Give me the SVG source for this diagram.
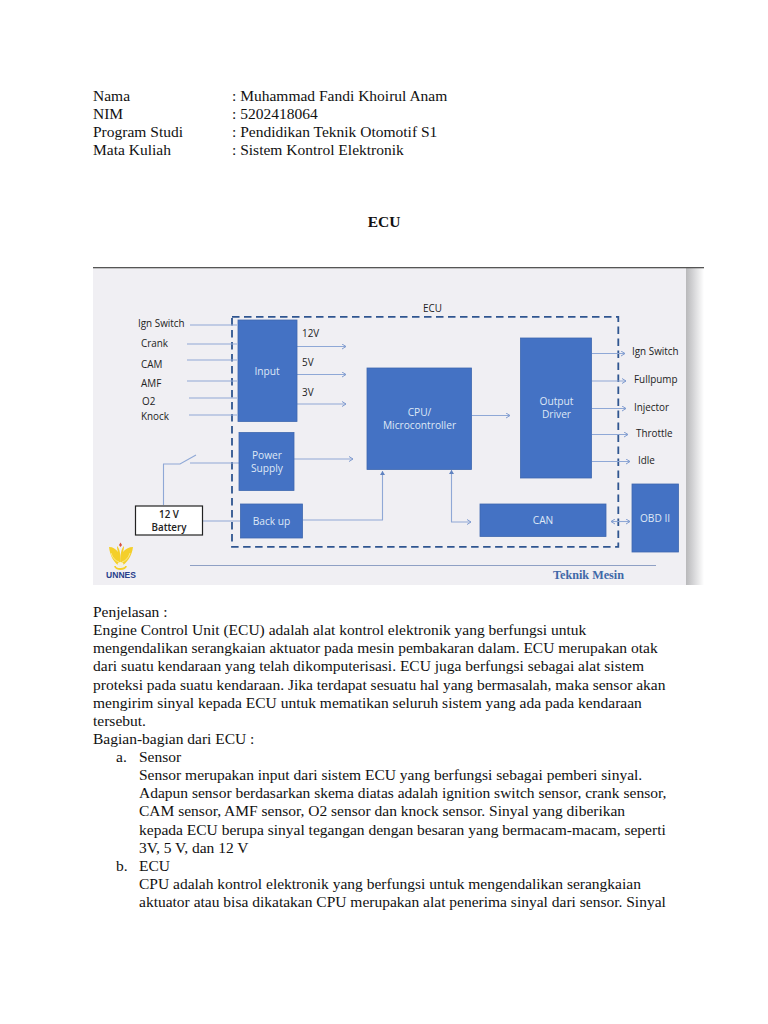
<svg xmlns="http://www.w3.org/2000/svg" width="768" height="1024" viewBox="0 0 768 1024">
<defs>
<linearGradient id="shadow" x1="0" x2="1" y1="0" y2="0"><stop offset="0" stop-color="#b8b8ba"/><stop offset=".4" stop-color="#d4d4d6"/><stop offset="1" stop-color="#ffffff"/></linearGradient>
<marker id="arr" markerWidth="7" markerHeight="7" refX="5" refY="3" orient="auto" markerUnits="userSpaceOnUse"><path d="M1 0.5L5 3L1 5.5" fill="none" stroke="#7f9bcf" stroke-width="1"/></marker>
<marker id="arrs" markerWidth="7" markerHeight="7" refX="1" refY="3" orient="auto" markerUnits="userSpaceOnUse"><path d="M5 0.5L1 3L5 5.5" fill="none" stroke="#7f9bcf" stroke-width="1"/></marker>
<marker id="tip" markerWidth="6" markerHeight="6" refX="4" refY="2.5" orient="auto" markerUnits="userSpaceOnUse"><path d="M0 0L4 2.5L0 5Z" fill="#5f82c0"/></marker>
</defs>
<style>
.doc{font-family:"Liberation Serif","Times New Roman",serif;font-size:15.5px;fill:#111}
.lab{font-family:"Open Sans","Noto Sans",sans-serif;font-size:9.9px;fill:#222}
.w{font-family:"Open Sans","Noto Sans",sans-serif;font-size:10.2px;fill:#dfe8f6;text-anchor:middle}
.bt{font-family:"Open Sans","Noto Sans",sans-serif;font-size:9.8px;font-weight:600;fill:#222;text-anchor:middle}
.b{fill:#4472c4;stroke:#3f68b0;stroke-width:.8}
.c line,.c path{fill:none;stroke:#8fa8d6;stroke-width:1.1}
</style>
<rect width="768" height="1024" fill="#fff"/>
<g id="header" class="doc">
<text x="93" y="101">Nama</text><text x="232" y="101">: Muhammad Fandi Khoirul Anam</text>
<text x="93" y="119">NIM</text><text x="232" y="119">: 5202418064</text>
<text x="93" y="137">Program Studi</text><text x="232" y="137">: Pendidikan Teknik Otomotif S1</text>
<text x="93" y="155">Mata Kuliah</text><text x="232" y="155">: Sistem Kontrol Elektronik</text>
<text x="384" y="227" text-anchor="middle" font-weight="bold">ECU</text>
</g>
<g id="figure-bg">
<rect x="686" y="268" width="18" height="317" fill="url(#shadow)"/>
<rect x="93" y="268" width="593" height="317" fill="#f0eff3"/>
<rect x="93" y="267" width="611" height="1.3" fill="#555"/>
<path d="M190 565.500H656" stroke="#8fa0c4" stroke-width="1"/>
<text x="553" y="579" font-family="Liberation Serif,serif" font-size="12.200" font-weight="bold" fill="#3f68a8">Teknik Mesin</text>
</g>
<g id="logo-unnes">
<path d="M120.500 567C114 563 110 556 109 547C113 547 116 549 118 552C117 549 117 547 117 546C120 549 121 555 120.500 567Z" fill="#f4cf2a"/>
<path d="M120.500 567C127 563 132 556 133 547C129 547 125 549 123 552C124 549 124 547 124 546C121 549 120 555 120.500 567Z" fill="#f4cf2a"/>
<path d="M111 553Q113 560 119 562M130 553Q128 560 122 562" fill="none" stroke="#fbeea0" stroke-width=".8"/>
<path d="M115 566a5.500 3 0 0 0 11 0" fill="none" stroke="#f4cf2a" stroke-width="1.800"/>
<ellipse cx="120.500" cy="564.500" rx="3" ry="2.500" fill="#f6f1d8"/>
<path d="M120.500 542.500l1.500 2.500-1.500 2-1.500-2Z" fill="#d8503a"/>
<text x="121" y="578" text-anchor="middle" font-family="Liberation Sans,sans-serif" font-size="8.500" font-weight="bold" fill="#27408b">UNNES</text>
</g>
<rect id="ecu-boundary" x="232" y="316.800" width="386.300" height="230" fill="none" stroke="#2f5590" stroke-width="1.800" stroke-dasharray="7.500 4.500"/>
<g id="connectors" class="c">
<line x1="190" y1="325" x2="237" y2="325"/><line x1="187" y1="344" x2="237" y2="344"/><line x1="187" y1="360" x2="237" y2="360"/><line x1="187" y1="381" x2="237" y2="381"/><line x1="189" y1="398" x2="237" y2="398"/><line x1="189" y1="415" x2="237" y2="415"/>
<line x1="297" y1="346.500" x2="346" y2="346.500" marker-end="url(#arr)"/>
<line x1="297" y1="374.500" x2="346" y2="374.500" marker-end="url(#arr)"/>
<line x1="297" y1="404" x2="346" y2="404" marker-end="url(#arr)"/>
<line x1="294" y1="459" x2="353" y2="459" marker-end="url(#arr)"/>
<path d="M163.500 505V464H180L196 455"/><line x1="190" y1="463" x2="239" y2="463"/>
<line x1="203" y1="521" x2="240" y2="521"/>
<path d="M303 520H382.500V471" marker-end="url(#tip)"/>
<line x1="472" y1="415.500" x2="510" y2="415.500" marker-end="url(#arr)"/>
<path d="M451.500 471V522H471" marker-end="url(#arr)"/><path d="M451.500 474V470" marker-end="url(#tip)"/>
<line x1="592" y1="353.500" x2="625" y2="353.500" marker-end="url(#arr)"/>
<line x1="592" y1="381" x2="626" y2="381" marker-end="url(#arr)"/>
<line x1="592" y1="408.500" x2="626" y2="408.500" marker-end="url(#arr)"/>
<line x1="592" y1="434.500" x2="628" y2="434.500" marker-end="url(#arr)"/>
<line x1="592" y1="461.500" x2="630" y2="461.500" marker-end="url(#arr)"/>
<line x1="611" y1="521.500" x2="630" y2="521.500" marker-start="url(#arrs)" marker-end="url(#arr)"/>
</g>
<g id="ecu-title"><text class="lab" x="423" y="312">ECU</text></g>
<g id="inputs" class="lab">
<text x="138" y="327">Ign Switch</text><text x="141" y="347">Crank</text><text x="141" y="368">CAM</text><text x="141" y="387">AMF</text><text x="142" y="405">O2</text><text x="141" y="420">Knock</text>
<text x="302" y="337">12V</text><text x="302" y="366">5V</text><text x="302" y="395.500">3V</text>
</g>
<g id="outputs" class="lab">
<text x="632" y="355">Ign Switch</text><text x="634" y="383">Fullpump</text><text x="634" y="411">Injector</text><text x="636" y="437">Throttle</text><text x="638" y="464">Idle</text>
</g>
<g id="node-input"><rect class="b" x="238" y="320" width="59" height="101.500"/><text class="w" x="267" y="374.500">Input</text></g>
<g id="node-power"><rect class="b" x="239" y="432.500" width="55" height="58"/><text class="w" x="267" y="459">Power</text><text class="w" x="267" y="472">Supply</text></g>
<g id="node-backup"><rect class="b" x="240.500" y="504" width="62" height="34"/><text class="w" x="271.500" y="525">Back up</text></g>
<g id="node-cpu"><rect class="b" x="367" y="368" width="104.500" height="101.500"/><text class="w" x="419.500" y="416">CPU/</text><text class="w" x="419.500" y="429">Microcontroller</text></g>
<g id="node-output"><rect class="b" x="520.500" y="338" width="71" height="140"/><text class="w" x="556.500" y="405">Output</text><text class="w" x="556.500" y="418">Driver</text></g>
<g id="node-can"><rect class="b" x="480" y="504" width="126" height="32.500"/><text class="w" x="543" y="524">CAN</text></g>
<g id="node-obd"><rect class="b" x="632" y="484" width="46.500" height="68"/><text class="w" x="655" y="522">OBD II</text></g>
<g id="node-battery"><rect x="135.500" y="506" width="67" height="29" fill="#fff" stroke="#222" stroke-width="1.200"/><text class="bt" x="169" y="518">12 V</text><text class="bt" x="169" y="531">Battery</text></g>
<g id="body" class="doc">
<text x="93" y="617">Penjelasan :</text>
<text x="93" y="635">Engine Control Unit (ECU) adalah alat kontrol elektronik yang berfungsi untuk</text>
<text x="93" y="653">mengendalikan serangkaian aktuator pada mesin pembakaran dalam. ECU merupakan otak</text>
<text x="93" y="671">dari suatu kendaraan yang telah dikomputerisasi. ECU juga berfungsi sebagai alat sistem</text>
<text x="93" y="690">proteksi pada suatu kendaraan. Jika terdapat sesuatu hal yang bermasalah, maka sensor akan</text>
<text x="93" y="708">mengirim sinyal kepada ECU untuk mematikan seluruh sistem yang ada pada kendaraan</text>
<text x="93" y="726">tersebut.</text>
<text x="93" y="744">Bagian-bagian dari ECU :</text>
<text x="116" y="762">a.</text><text x="139" y="762">Sensor</text>
<text x="139" y="780">Sensor merupakan input dari sistem ECU yang berfungsi sebagai pemberi sinyal.</text>
<text x="139" y="798">Adapun sensor berdasarkan skema diatas adalah ignition switch sensor, crank sensor,</text>
<text x="139" y="816">CAM sensor, AMF sensor, O2 sensor dan knock sensor. Sinyal yang diberikan</text>
<text x="139" y="835">kepada ECU berupa sinyal tegangan dengan besaran yang bermacam-macam, seperti</text>
<text x="139" y="853">3V, 5 V, dan 12 V</text>
<text x="116" y="871">b.</text><text x="139" y="871">ECU</text>
<text x="139" y="889">CPU adalah kontrol elektronik yang berfungsi untuk mengendalikan serangkaian</text>
<text x="139" y="907">aktuator atau bisa dikatakan CPU merupakan alat penerima sinyal dari sensor. Sinyal</text>
</g>
</svg>
